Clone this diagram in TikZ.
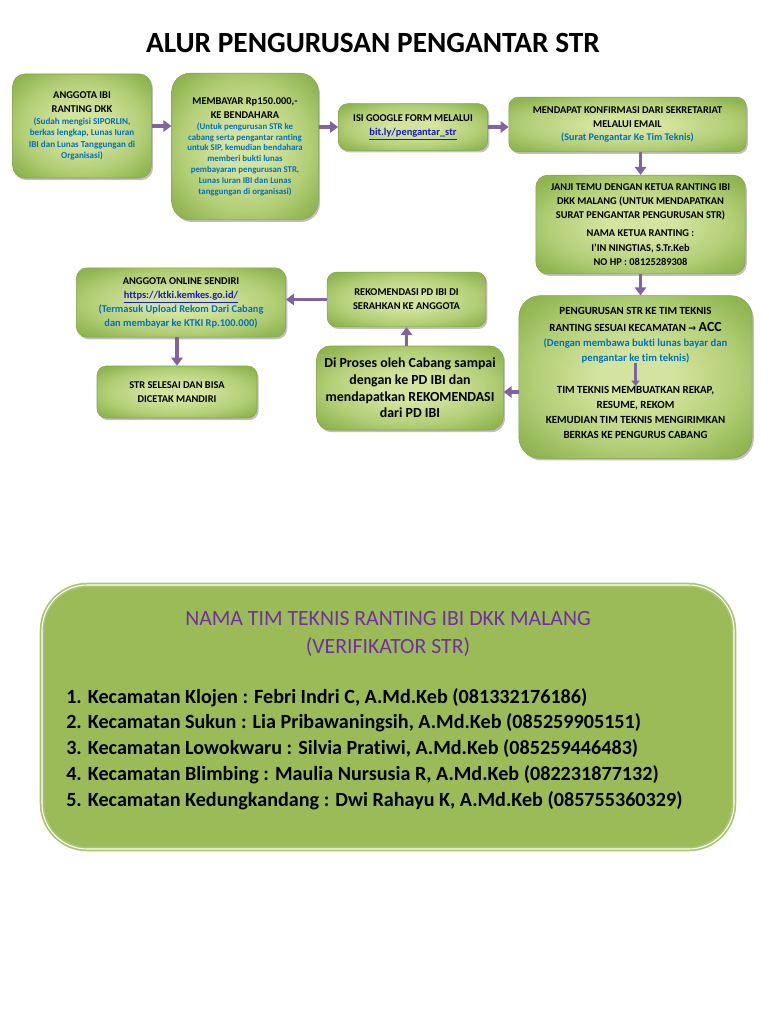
\documentclass[tikz,border=0pt]{standalone}
\usepackage{fontspec}
\setmainfont{Carlito}[Ligatures=CommonOff]
\newfontfamily\symfont{DejaVu Sans}
\usetikzlibrary{positioning,arrows.meta,shadows}

\definecolor{boxlight}{RGB}{212,228,158}
\definecolor{boxmid}{RGB}{178,206,118}
\definecolor{boxdark}{RGB}{143,180,80}
\definecolor{boxline}{RGB}{128,166,68}
\definecolor{flow}{RGB}{128,100,162}
\definecolor{note}{RGB}{0,112,192}
\definecolor{link}{RGB}{24,24,200}
\definecolor{panel}{RGB}{155,187,89}
\definecolor{heading}{RGB}{112,48,160}

\pgfdeclareradialshading{boxshade}{\pgfpointorigin}{color(0bp)=(boxlight); color(8bp)=(boxlight); color(22bp)=(boxmid); color(32bp)=(boxdark); color(50bp)=(boxdark)}

\newcommand\capsfont{\fontsize{7.8}{10.6}\selectfont\bfseries}
\newcommand\notefont{\fontsize{6.8}{8.6}\selectfont\bfseries\color{note}}
\newcommand\smallnote{\fontsize{6.6}{8.1}\selectfont\bfseries\color{note}}
\newcommand\weblink[1]{{\color{link}\underline{#1}}}

\begin{document}
\begin{tikzpicture}[x=0.75pt,y=-0.75pt,
    stepbox/.style={shade,shading=boxshade,draw=boxline,line width=0.4pt,
      rounded corners=9pt,align=flush center,inner sep=2pt,
      drop shadow={shadow xshift=1.2pt,shadow yshift=-1.6pt,opacity=.35,fill=black!70}},
    boxtext/.style={align=flush center,inner sep=0pt,text width=170pt},
    flow/.style={draw=flow,line width=2.3pt,-{Triangle[length=6pt,width=8.5pt]}},
    smallflow/.style={draw=flow,line width=1.6pt,-{Triangle[length=4pt,width=6pt]}}]
  \useasboundingbox (0,0) rectangle (768,1024);

  % title
  \node[font=\fontsize{22}{26}\selectfont\bfseries] (judul) at (373,43) {ALUR PENGURUSAN PENGANTAR STR};

  % top row
  \node[stepbox,minimum width=104pt,minimum height=78pt,text width=100pt] (anggota) at (82,126)
    {{\capsfont ANGGOTA IBI\\RANTING DKK\par}{\notefont (Sudah mengisi SIPORLIN,\\berkas lengkap, Lunas Iuran\\IBI dan Lunas Tanggungan di\\Organisasi)\par}};
  \node[stepbox,minimum width=110pt,minimum height=110pt,text width=106pt,rounded corners=14pt] (bayar) at (245,146.5)
    {{\capsfont MEMBAYAR Rp150.000,-\\KE BENDAHARA\par}{\smallnote (Untuk pengurusan STR ke\\cabang serta pengantar ranting\\untuk SIP, kemudian bendahara\\memberi bukti lunas\\pembayaran pengurusan STR,\\Lunas Iuran IBI dan Lunas\\tanggungan di organisasi)\par}};
  \node[stepbox,minimum width=112pt,minimum height=35pt,text width=108pt,rounded corners=7pt] (form) at (413,127)
    {{\capsfont ISI GOOGLE FORM MELALUI\\\weblink{bit.ly/pengantar\_str}\par}};
  \node[stepbox,minimum width=178pt,minimum height=41pt,text width=174pt,rounded corners=7pt] (konfirmasi) at (627.5,124.5)
    {{\capsfont MENDAPAT KONFIRMASI DARI SEKRETARIAT\\MELALUI EMAIL\par}{\fontsize{7.6}{10}\selectfont\bfseries\color{note}(Surat Pengantar Ke Tim Teknis)\par}};

  % right column
  \node[stepbox,minimum width=157pt,minimum height=74pt,text width=153pt] (janji) at (640.5,224.5)
    {{\capsfont JANJI TEMU DENGAN KETUA RANTING IBI\\DKK MALANG (UNTUK MENDAPATKAN\\SURAT PENGANTAR PENGURUSAN STR)\par}\vspace{3pt}{\capsfont NAMA KETUA RANTING :\\I’IN NINGTIAS, S.Tr.Keb\\NO HP : 08125289308\par}};
  \node[stepbox,minimum width=175pt,minimum height=122pt,rounded corners=16pt] (pengurusan) at (635.5,377) {};
  \node[boxtext,below=9pt of pengurusan.north] (pengA)
    {{\fontsize{8.2}{12.4}\selectfont\bfseries PENGURUSAN STR KE TIM TEKNIS\\RANTING SESUAI KECAMATAN {\symfont\fontsize{7}{10}\selectfont →} {\fontsize{10.4}{12}\selectfont ACC}\par}{\fontsize{8}{11.2}\selectfont\bfseries\color{note}(Dengan membawa bukti lunas bayar dan\\pengantar ke tim teknis)\par}};
  \node[boxtext,above=15pt of pengurusan.south] (pengB)
    {{\fontsize{8.2}{11.2}\selectfont\bfseries TIM TEKNIS MEMBUATKAN REKAP,\\RESUME, REKOM\\KEMUDIAN TIM TEKNIS MENGIRIMKAN\\BERKAS KE PENGURUS CABANG\par}};

  % middle row
  \node[stepbox,minimum width=138pt,minimum height=63pt,text width=136pt,rounded corners=10pt] (proses) at (410,388)
    {{\fontsize{10.4}{12.5}\selectfont\bfseries Di Proses oleh Cabang sampai\\dengan ke PD IBI dan\\mendapatkan REKOMENDASI\\dari PD IBI\par}};
  \node[stepbox,minimum width=119pt,minimum height=41pt,text width=115pt,rounded corners=7pt] (rekom) at (406.5,299.5)
    {{\capsfont REKOMENDASI PD IBI DI\\SERAHKAN KE ANGGOTA\par}};
  \node[stepbox,minimum width=155pt,minimum height=52pt,text width=153pt,rounded corners=8pt] (online) at (181,302.5)
    {{\capsfont ANGGOTA ONLINE SENDIRI\\\weblink{https://ktki.kemkes.go.id/}\par}{\fontsize{7.8}{10.4}\selectfont\bfseries\color{note}(Termasuk Upload Rekom Dari Cabang\\dan membayar ke KTKI Rp.100.000)\par}};
  \node[stepbox,minimum width=120pt,minimum height=39pt,text width=116pt,rounded corners=7pt] (selesai) at (177,392)
    {{\capsfont STR SELESAI DAN BISA\\DICETAK MANDIRI\par}};

  % connectors
  \draw[flow] (anggota.east) -- (anggota.east -| bayar.west);
  \draw[flow] (bayar.east |- form.west) -- (form.west);
  \draw[flow] (form.east) -- (form.east -| konfirmasi.west);
  \draw[flow] (konfirmasi.south -| janji.north) -- (janji.north);
  \draw[flow] (janji.south) -- (janji.south |- pengurusan.north);
  \draw[smallflow] (pengA.south) -- (pengB.north);
  \draw[flow] ([yshift=-3pt]pengurusan.west |- proses.east) -- ([yshift=-3pt]proses.east);
  \draw[flow] (proses.north -| rekom.south) -- (rekom.south);
  \draw[flow] (rekom.west) -- (rekom.west -| online.east);
  \draw[flow] (online.south -| selesai.north) -- (selesai.north);

  % verifikator panel
  \node[fill=panel,draw=panel!85!white,double=white,double distance=0.8pt,line width=1.3pt,
    rounded corners=34pt,minimum width=519pt,minimum height=198pt] (tim) at (388,717) {};
  \node[align=center,text=heading,font=\fontsize{16.3}{21}\selectfont] (timjudul) at (388,634)
    {NAMA TIM TEKNIS RANTING IBI DKK MALANG\\(VERIFIKATOR STR)};
  \node[align=left,anchor=west,inner sep=0pt,font=\fontsize{15.1}{19.4}\selectfont\bfseries] (timdaftar) at (66,749)
    {1. Kecamatan Klojen : Febri Indri C, A.Md.Keb (081332176186)\\
     2. Kecamatan Sukun : Lia Pribawaningsih, A.Md.Keb (085259905151)\\
     3. Kecamatan Lowokwaru : Silvia Pratiwi, A.Md.Keb (085259446483)\\
     4. Kecamatan Blimbing : Maulia Nursusia R, A.Md.Keb (082231877132)\\
     5. Kecamatan Kedungkandang : Dwi Rahayu K, A.Md.Keb (085755360329)};
\end{tikzpicture}
\end{document}
